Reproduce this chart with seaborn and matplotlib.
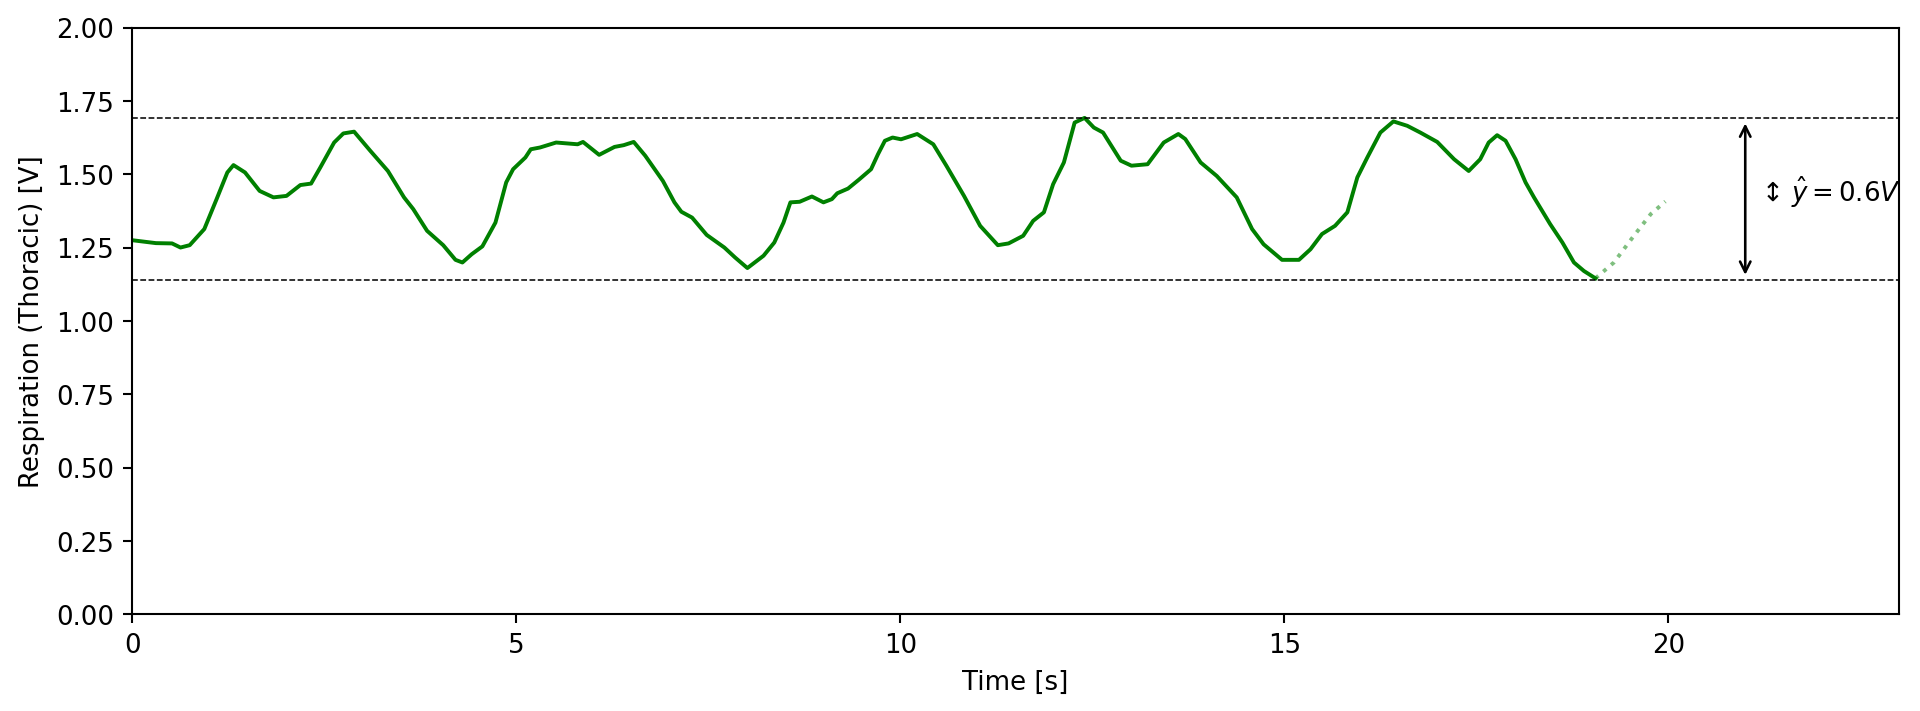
import numpy as np
import pandas as pd
import matplotlib
matplotlib.use('Agg')
import matplotlib.pyplot as plt
import seaborn as sns

# respiration trace (time in s, volts)
time_s = [0.0, 0.31, 0.52, 0.63, 0.75, 0.94, 1.10, 1.24, 1.32, 1.47, 1.66, 1.84,
          2.01, 2.19, 2.33, 2.45, 2.63, 2.75, 2.89, 3.10, 3.33, 3.54, 3.66, 3.84,
          4.05, 4.21, 4.30, 4.42, 4.56, 4.73, 4.87, 4.96, 5.12, 5.19, 5.31, 5.52,
          5.80, 5.87, 6.08, 6.28, 6.40, 6.53, 6.68, 6.91, 7.06, 7.15, 7.29, 7.48,
          7.71, 7.85, 8.01, 8.22, 8.36, 8.48, 8.57, 8.69, 8.85, 9.00, 9.11, 9.18,
          9.32, 9.46, 9.62, 9.71, 9.80, 9.90, 10.01, 10.22, 10.43, 10.60, 10.83, 11.04,
          11.27, 11.41, 11.60, 11.73, 11.87, 11.99, 12.13, 12.27, 12.40, 12.52, 12.64, 12.87,
          13.01, 13.22, 13.43, 13.62, 13.71, 13.91, 14.12, 14.38, 14.58, 14.73, 14.97, 15.19,
          15.34, 15.49, 15.66, 15.82, 15.95, 16.08, 16.25, 16.42, 16.60, 16.77, 16.99, 17.21,
          17.40, 17.55, 17.66, 17.77, 17.88, 18.01, 18.14, 18.25, 18.46, 18.62, 18.77, 18.90,
          19.05]
volts = [1.275, 1.265, 1.264, 1.250, 1.258, 1.313, 1.415, 1.506, 1.531, 1.506, 1.443, 1.421,
         1.426, 1.463, 1.468, 1.523, 1.608, 1.639, 1.645, 1.580, 1.511, 1.421, 1.381, 1.307,
         1.258, 1.208, 1.199, 1.227, 1.254, 1.335, 1.472, 1.517, 1.557, 1.585, 1.591, 1.608,
         1.602, 1.610, 1.566, 1.593, 1.599, 1.610, 1.563, 1.477, 1.404, 1.372, 1.352, 1.293,
         1.250, 1.216, 1.180, 1.222, 1.267, 1.335, 1.404, 1.406, 1.424, 1.404, 1.415, 1.435,
         1.451, 1.481, 1.517, 1.568, 1.614, 1.625, 1.619, 1.637, 1.602, 1.529, 1.426, 1.324,
         1.258, 1.264, 1.290, 1.341, 1.370, 1.466, 1.540, 1.676, 1.692, 1.659, 1.642, 1.546,
         1.529, 1.534, 1.608, 1.637, 1.620, 1.540, 1.494, 1.421, 1.313, 1.261, 1.208, 1.208,
         1.244, 1.296, 1.324, 1.370, 1.489, 1.557, 1.642, 1.680, 1.665, 1.642, 1.610, 1.551,
         1.511, 1.551, 1.608, 1.633, 1.614, 1.551, 1.472, 1.421, 1.330, 1.267, 1.199, 1.170,
         1.145]

# extrapolated part (dotted)
pred_time = [19.05, 19.29, 19.55, 19.77, 19.96]
pred_volts = [1.145, 1.199, 1.290, 1.364, 1.407]

low_level = 1.139
high_level = 1.691
amp_label = '↕ $\\hat{y} = 0.6V$'

df = pd.DataFrame({'time': time_s, 'volts': volts})
pred = pd.DataFrame({'time': pred_time, 'volts': pred_volts})

fig, ax = plt.subplots(figsize=(10.24, 3.797), dpi=187.5)
sns.lineplot(x='time', y='volts', data=df, color='g', lw=1.5, ax=ax)
sns.lineplot(x='time', y='volts', data=pred, color='g', alpha=0.5, lw=1.5, ls=':', ax=ax)

ax.axhline(high_level, color='k', ls='--', lw=0.6)
ax.axhline(low_level, color='k', ls='--', lw=0.6)

# amplitude arrow
ax.annotate('', xy=(21, low_level), xytext=(21, high_level),
            arrowprops=dict(arrowstyle='<->', color='k', lw=1))
ax.text(21.2, 1.44, amp_label, va='center', ha='left', fontsize=10)

ax.set_xlim(0, 23)
ax.set_ylim(0, 2)
ax.set_xlabel('Time [s]')
ax.set_ylabel('Respiration (Thoracic) [V]')

plt.subplots_adjust(left=0.0688, right=0.989, top=0.960, bottom=0.136)
plt.savefig('out.png', dpi=187.5)
